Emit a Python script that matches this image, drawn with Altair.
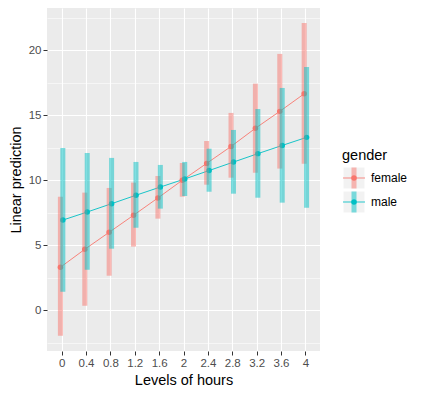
import altair as alt
import pandas as pd

hours = [0, 0.4, 0.8, 1.2, 1.6, 2, 2.4, 2.8, 3.2, 3.6, 4]
genders = ["female", "male"]
female_fit = [3.31, 4.69, 6.0, 7.31, 8.64, 10.0, 11.3, 12.6, 14.0, 15.3, 16.65]
female_lo = [-1.95, 0.35, 2.66, 4.9, 7.05, 8.74, 9.66, 10.2, 10.58, 10.9, 11.28]
female_hi = [8.74, 9.05, 9.41, 9.82, 10.33, 11.33, 13.02, 15.18, 17.43, 19.72, 22.1]
male_fit = [6.94, 7.56, 8.2, 8.85, 9.48, 10.1, 10.75, 11.4, 12.05, 12.68, 13.3]
male_lo = [1.43, 3.12, 4.74, 6.35, 7.82, 8.79, 9.12, 8.97, 8.66, 8.28, 7.89]
male_hi = [12.48, 12.1, 11.72, 11.41, 11.18, 11.41, 12.43, 13.87, 15.48, 17.1, 18.72]
colors = ["#F8766D", "#00BFC4"]
y_major = [0, 5, 10, 15, 20]
y_minor = [-2.5, 2.5, 7.5, 12.5, 17.5, 22.5]

rows = []
for g, fit, lo, hi in [("female", female_fit, female_lo, female_hi),
                       ("male", male_fit, male_lo, male_hi)]:
    for h, f, l, u in zip(hours, fit, lo, hi):
        rows.append({"hours": h, "gender": g, "fit": f, "lo": l, "hi": u})
df = pd.DataFrame(rows)

FONT = "Liberation Sans"
color = alt.Color("gender:N", scale=alt.Scale(domain=genders, range=colors), legend=None)

xscale = alt.Scale(domain=[-0.24, 4.24], nice=False, zero=False)
x_axis = alt.Axis(values=hours, format=".1~f", title="Levels of hours",
                  grid=True, gridColor="white", gridWidth=1.1, labelOverlap=False,
                  domain=False, tickColor="#333333", tickSize=4, tickWidth=1,
                  labelColor="#4D4D4D", labelFontSize=11.5, labelFont=FONT,
                  labelPadding=2, titleFont=FONT, titleFontSize=14.5,
                  titleFontWeight="normal", titleColor="black", titlePadding=5)
x = alt.X("xd:Q", scale=xscale, axis=x_axis)

y_axis = alt.Axis(values=y_major, title="Linear prediction", labelOverlap=False, orient="left",
                  grid=True, gridColor="white", gridWidth=1.1,
                  domain=False, tickColor="#333333", tickSize=4, tickWidth=1,
                  labelColor="#4D4D4D", labelFontSize=11.5, labelFont=FONT, labelPadding=2,
                  titleFont=FONT, titleFontSize=14.5, titleFontWeight="normal",
                  titleColor="black", titlePadding=5)
y_minor_axis = alt.Axis(values=y_minor, title=None, labels=False, ticks=False, domain=False,
                        grid=True, gridColor="white", gridWidth=0.55, orient="left")
yscale = alt.Scale(domain=[-3.13, 23.25], nice=False, zero=False)

base = alt.Chart(df).transform_calculate(
    xd="datum.hours + (datum.gender == 'female' ? -0.02 : 0.02)"
)

minor = base.mark_line(opacity=0).encode(
    x=x, y=alt.Y("fit:Q", scale=yscale, axis=y_minor_axis), detail="gender:N")
lines = base.mark_line(strokeWidth=0.9).encode(
    x=x, y=alt.Y("fit:Q", scale=yscale, axis=y_axis), color=color)
points = base.mark_point(filled=True, size=30, opacity=1).encode(
    x=x, y=alt.Y("fit:Q", axis=None), color=color)
bars = base.mark_rule(strokeWidth=5, opacity=0.5).encode(
    x=x, y=alt.Y("lo:Q", axis=None), y2="hi:Q", color=color)

main = alt.layer(minor, lines, points, bars).resolve_axis(y="independent").properties(
    width=273, height=343,
    view=alt.ViewBackground(fill="#EBEBEB", stroke=None))

# legend panel
leg_df = pd.DataFrame({"gender": genders})
title_df = pd.DataFrame({"t": ["gender"]})
ly = alt.Y("gender:N", scale=alt.Scale(type="point", domain=genders, range=[170, 194], padding=0), axis=None)
lcolor = alt.Color("gender:N", scale=alt.Scale(domain=genders, range=colors), legend=None)
lb = alt.Chart(leg_df)
keybg = lb.mark_square(size=440, color="#F2F2F2", opacity=1).encode(x=alt.value(34), y=ly)
keyline = lb.mark_tick(orient="horizontal", thickness=1.2, size=22).encode(x=alt.value(34), y=ly, color=lcolor)
keypt = lb.mark_point(filled=True, size=30, opacity=1).encode(x=alt.value(34), y=ly, color=lcolor)
keybar = lb.mark_tick(orient="vertical", thickness=5, size=21, opacity=0.5).encode(x=alt.value(34), y=ly, color=lcolor)
labels = lb.mark_text(align="left", baseline="middle", font=FONT, fontSize=12, color="black").encode(
    x=alt.value(51), y=ly, text="gender:N")
ltitle = alt.Chart(title_df).mark_text(align="left", baseline="alphabetic", font=FONT,
                                       fontSize=14.5, color="black").encode(
    x=alt.value(22), y=alt.value(152), text="t:N")
legend = alt.layer(keybg, keyline, keypt, keybar, labels, ltitle).properties(
    width=85, height=343, view=alt.ViewBackground(fill=None, stroke=None))

chart = alt.hconcat(main, legend, spacing=0).properties(
    padding={"left": 0, "top": 0, "right": 0, "bottom": 0}
).configure_view(stroke=None).configure_axis(labelOverlap=False).configure(background="white")

chart.save("out.html", embed_options={"renderer": "svg", "actions": False})
